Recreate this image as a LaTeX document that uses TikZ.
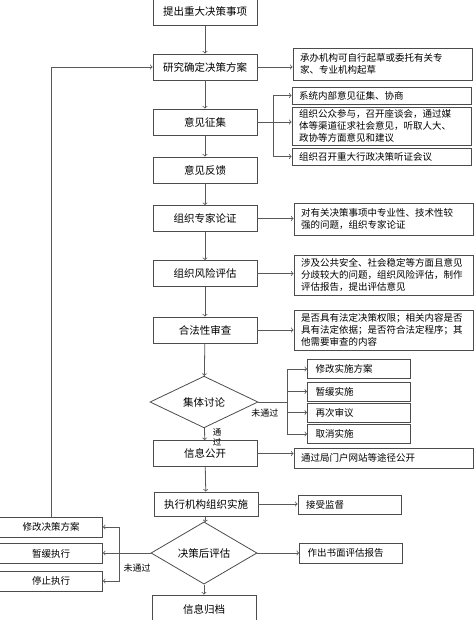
\documentclass[tikz,border=0pt]{standalone}
\usepackage{fontspec}
\setmainfont{Noto Sans CJK SC}
\usetikzlibrary{shapes, arrows, calc}
\tikzstyle{mainBox}   = [rectangle,
                         minimum width=104pt,
                         minimum height=26pt,
                         text centered,
                         draw=black!70,
                         font=\fontsize{10.5}{12}\selectfont]
\tikzstyle{decision}  = [diamond,
                         minimum width=108pt,
                         minimum height=34pt,
                         inner sep=0pt,
                         text centered,
                         draw=black!70,
                         font=\fontsize{10.5}{12}\selectfont]
\tikzstyle{noteBox}   = [rectangle,
                         minimum width=179pt,
                         text width=165pt,
                         inner xsep=7pt,
                         inner ysep=2pt,
                         align=left,
                         draw=black!70,
                         font=\fontsize{9.5}{12}\selectfont]
\tikzstyle{choiceBox} = [rectangle,
                         minimum width=103pt,
                         text width=87pt,
                         inner xsep=8pt,
                         minimum height=19pt,
                         align=left,
                         draw=black!70,
                         font=\fontsize{9.5}{12}\selectfont]
\tikzstyle{backBox}   = [rectangle,
                         minimum width=103pt,
                         minimum height=20pt,
                         text centered,
                         draw=black!70,
                         font=\fontsize{9.5}{12}\selectfont]
\tikzstyle{tag}       = [inner sep=0pt,
                         align=center,
                         font=\fontsize{9}{10}\selectfont]
\tikzstyle{arrow}     = [draw=black!65, line width=0.8pt, ->, >=to]
\tikzstyle{line}      = [draw=black!65, line width=0.8pt]

\begin{document}
\begin{tikzpicture}[x=1pt, y=1pt, line width=0.8pt]
\useasboundingbox (0,0) rectangle (474,-620);

\node [mainBox, minimum height=28pt] (raise) at (205,-11.5) {提出重大决策事项};
\node [mainBox] (plan)       at ([shift={(0,-55.5)}] raise)   {研究确定决策方案};
\node [mainBox] (collect)    at ([shift={(0,-55)}] plan)      {意见征集};
\node [mainBox] (feedback)   at ([shift={(0,-48)}] collect)   {意见反馈};
\node [mainBox] (expert)     at ([shift={(0,-48.5)}] feedback) {组织专家论证};
\node [mainBox] (risk)       at ([shift={(0,-55)}] expert)    {组织风险评估};
\node [mainBox] (legal)      at ([shift={(0,-56.5)}] risk)    {合法性审查};
\node [decision] (discuss)   at ([shift={(-1,-72)}] legal)    {集体讨论};
\node [mainBox] (publish)    at ([shift={(1,-51.5)}] discuss) {信息公开};
\node [mainBox, minimum height=24pt] (implement) at ([shift={(1,-50.5)}] publish) {执行机构组织实施};
\node [decision, minimum width=106pt, minimum height=32pt] (evaluate) at ([shift={(-2,-49)}] implement) {决策后评估};
\node [mainBox, minimum height=28pt] (archive) at ([shift={(0,-56)}] evaluate) {信息归档};


\node [noteBox, minimum height=32pt] (planNote) at ([shift={(177.5,3)}] plan) {
    承办机构可自行起草或委托有关专\\家、专业机构起草
    };
\node [noteBox, minimum height=17pt] (collectInner) at ([shift={(176.5,26.5)}] collect) {
    系统内部意见征集、协商
    };
\node [noteBox, minimum height=38pt] (collectPublic) at ([shift={(176.5,-4)}] collect) {
    组织公众参与，召开座谈会，通过媒\\体等渠道征求社会意见，听取人大、\\政协等方面意见和建议
    };
\node [noteBox, minimum height=17pt] (collectHearing) at ([shift={(176.5,-34.5)}] collect) {
    组织召开重大行政决策听证会议
    };
\node [noteBox, minimum height=32pt] (expertNote) at ([shift={(178.5,-0.5)}] expert) {
    对有关决策事项中专业性、技术性较\\强的问题，组织专家论证
    };
\node [noteBox, minimum height=40pt] (riskNote) at ([shift={(178.5,-1.5)}] risk) {
    涉及公共安全、社会稳定等方面且意见\\分歧较大的问题，组织风险评估，制作\\评估报告，提出评估意见
    };
\node [noteBox, minimum height=40pt] (legalNote) at ([shift={(178.5,0)}] legal) {
    是否具有法定决策权限；相关内容是否\\具有法定依据；是否符合法定程序；其\\他需要审查的内容
    };


\node [choiceBox] (reviseScheme) at ([shift={(155,33)}] discuss)    {修改实施方案};
\node [choiceBox] (postpone)     at ([shift={(155,10.5)}] discuss)  {暂缓实施};
\node [choiceBox] (reReview)     at ([shift={(155,-10.5)}] discuss) {再次审议};
\node [choiceBox] (cancel)       at ([shift={(155,-32)}] discuss)   {取消实施};

\node [noteBox, minimum height=20pt] (publishNote) at ([shift={(178.5,-4.5)}] publish) {
    通过局门户网站等途径公开
    };
\node [choiceBox] (supervise) at ([shift={(143.5,-0.5)}] implement) {接受监督};
\node [choiceBox, minimum height=20pt] (report) at ([shift={(147,0)}] evaluate) {作出书面评估报告};

\node [backBox] (reviseDecision) at ([shift={(-153,26)}] evaluate)   {修改决策方案};
\node [backBox] (suspendExec)    at ([shift={(-153,-0.5)}] evaluate) {暂缓执行};
\node [backBox] (stopExec)       at ([shift={(-153,-28)}] evaluate)  {停止执行};


\coordinate (collectSplit) at ([shift={(16,0)}] collect.east);
\coordinate (discussSplit) at ([shift={(29,0)}] discuss.east);
\coordinate (evalSplit)    at ([shift={(-31,0)}] evaluate.west);

\draw [arrow] (raise) -- (plan);
\draw [arrow] (plan) -- (collect);
\draw [arrow] (collect) -- (feedback);
\draw [arrow] (feedback) -- (expert);
\draw [arrow] (expert) -- (risk);
\draw [arrow] (risk) -- (legal);
\draw [arrow] (legal) -- (discuss);
\draw [arrow] (discuss) -- (publish);
\draw [arrow] (publish) -- (implement);
\draw [arrow] (implement) -- (evaluate);
\draw [arrow] (evaluate) -- (archive);

\draw [arrow] (plan.east) -- (plan.east -| planNote.west);
\draw [arrow] (collect.east) -- (collect.east -| collectPublic.west);
\draw [arrow] (collectSplit) |- (collectInner.west);
\draw [arrow] (collectSplit) |- (collectHearing.west);
\draw [arrow] (expert.east) -- (expert.east -| expertNote.west);
\draw [arrow] (risk.east) -- (risk.east -| riskNote.west);
\draw [arrow] (legal.east) -- (legal.east -| legalNote.west);

\draw [line] (discuss.east) -- (discussSplit);
\draw [arrow] (discussSplit) |- (reviseScheme.west);
\draw [arrow] (discussSplit) |- (postpone.west);
\draw [arrow] (discussSplit) |- (reReview.west);
\draw [arrow] (discussSplit) |- (cancel.west);

\draw [arrow] (publish.east) -- (publish.east -| publishNote.west);
\draw [arrow] (implement.east) -- (implement.east -| supervise.west);
\draw [arrow] (evaluate.east) -- (report.west);

\draw [arrow] (evaluate.west) -- (evaluate.west -| suspendExec.east);
\draw [arrow] (evalSplit) |- (reviseDecision.east);
\draw [arrow] (evalSplit) |- (stopExec.east);
\draw [arrow] (reviseDecision.north) |- (plan.west);

\node [tag] (discussNo)  at ([shift={(6.5,-11)}] discuss.east)   {未通过};
\node [tag, font=\fontsize{8.5}{10}\selectfont] (discussYes) at ([shift={(13,-9.5)}] discuss.south) {通\\过};
\node [tag] (evalNo)     at ([shift={(-13.5,-15)}] evaluate.west) {未通过};

\end{tikzpicture}
\end{document}
